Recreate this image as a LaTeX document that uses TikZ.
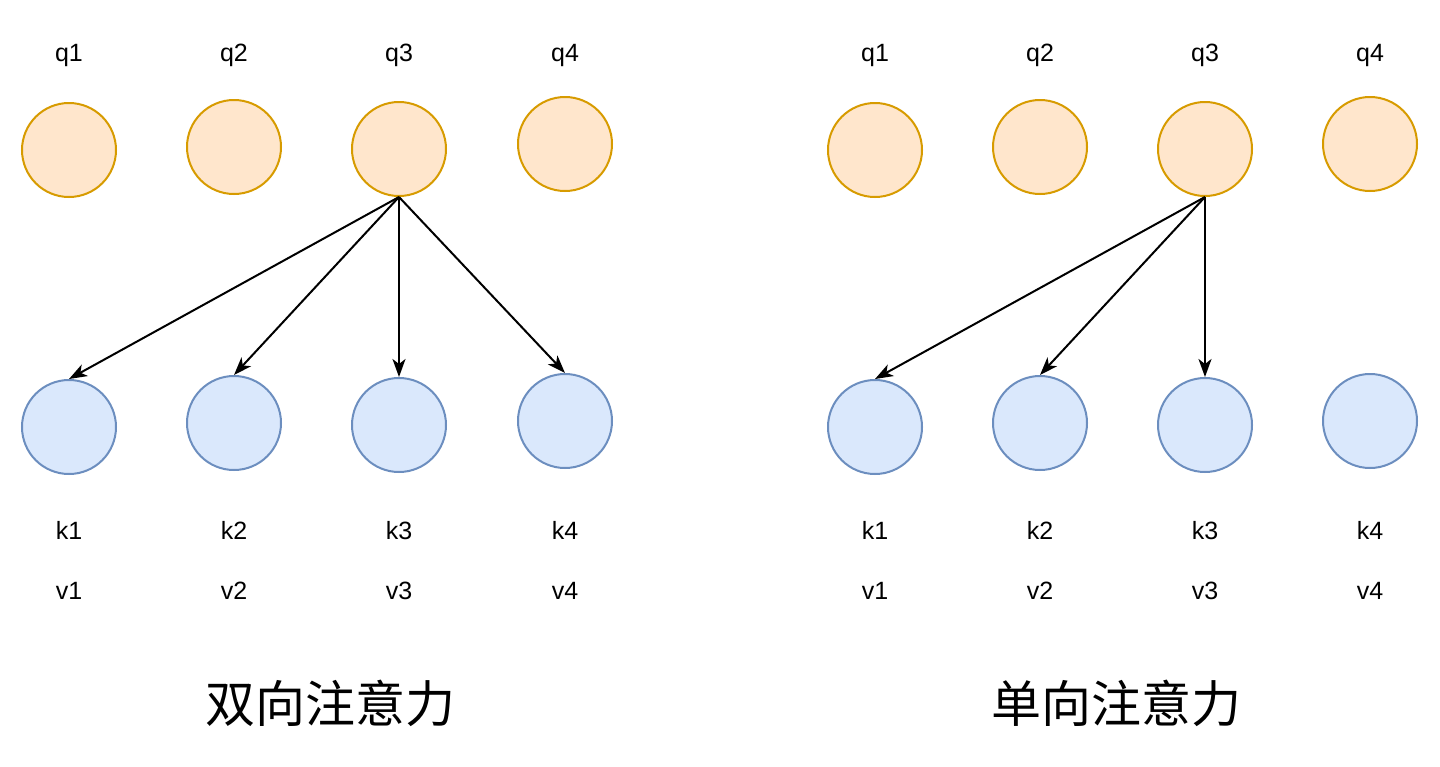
\documentclass[tikz,border=0pt]{standalone}
\usepackage{fontspec}
\setmainfont{Liberation Sans}
\newfontfamily\cjk{Noto Sans CJK SC}
\usepackage{tikz}
\usetikzlibrary{arrows.meta}
\usetikzlibrary{positioning}
\definecolor{qfill}{HTML}{FFE6CC}
\definecolor{qline}{HTML}{D79B00}
\definecolor{kfill}{HTML}{DAE8FC}
\definecolor{kline}{HTML}{6C8EBF}
\tikzset{
	qnode/.style={circle,draw=qline,fill=qfill,line width=2pt,minimum size=94pt,inner sep=0pt},
	knode/.style={circle,draw=kline,fill=kfill,line width=2pt,minimum size=94pt,inner sep=0pt},
	lbl/.style={font=\fontsize{25}{30}\selectfont,inner sep=0pt,text height=18pt,text depth=0pt},
	ttl/.style={font=\cjk\fontsize{50}{58}\selectfont,inner sep=0pt},
	attn/.style={-{Stealth[length=18pt,width=13pt,inset=5pt]},line width=2pt}
}
\begin{document}
\begin{tikzpicture}[x=1pt,y=-1pt]
	\useasboundingbox (0,0) rectangle (1440,766);

	% left: every query sees every key
	\foreach \i/\x/\yq/\yk in {1/69/150/427,2/234/147/423,3/399/149/425,4/565/144/421}{
		\node[lbl] (lql\i) at (\x,52) {q\i};
		\node[qnode] (lq\i) at (\x,\yq) {};
		\node[knode] (lk\i) at (\x,\yk) {};
		\node[lbl] (lkl\i) at (\x,530) {k\i};
		\node[lbl] (lvl\i) at (\x,590) {v\i};
	}
	\foreach \i in {1,2,3,4}
		\draw[attn] (lq3.south) -- (lk\i.north);
	\node[ttl] (lt) at (330,703) {双向注意力};

	% right: a query sees only the keys up to it
	\foreach \i/\x/\yq/\yk in {1/875/150/427,2/1040/147/423,3/1205/149/425,4/1370/144/421}{
		\node[lbl] (rql\i) at (\x,52) {q\i};
		\node[qnode] (rq\i) at (\x,\yq) {};
		\node[knode] (rk\i) at (\x,\yk) {};
		\node[lbl] (rkl\i) at (\x,530) {k\i};
		\node[lbl] (rvl\i) at (\x,590) {v\i};
	}
	\foreach \i in {1,2,3}
		\draw[attn] (rq3.south) -- (rk\i.north);
	\node[ttl] (rt) at (1116,703) {单向注意力};
\end{tikzpicture}
\end{document}
